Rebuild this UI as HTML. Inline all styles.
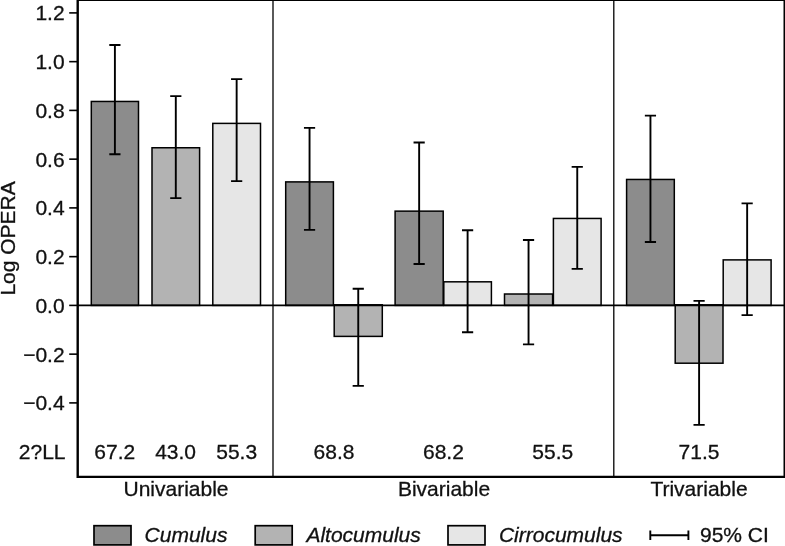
<!DOCTYPE html>
<html><head><meta charset="utf-8"><title>Log OPERA chart</title>
<style>html,body{margin:0;padding:0;background:#fff}svg{display:block}text{stroke:#111;stroke-width:0.3px;font-family:"Liberation Sans",Arial,Helvetica,sans-serif;font-size:21px;fill:#111}</style></head><body>
<svg width="785" height="546" viewBox="0 0 785 546">
<rect width="785" height="546" fill="#fff"/>
<rect x="91.30" y="101.45" width="47.20" height="203.95" fill="#8c8c8c" stroke="#000" stroke-width="1.5"/>
<rect x="152.00" y="147.76" width="47.60" height="157.64" fill="#b3b3b3" stroke="#000" stroke-width="1.5"/>
<rect x="212.80" y="123.39" width="47.70" height="182.01" fill="#e6e6e6" stroke="#000" stroke-width="1.5"/>
<rect x="285.70" y="181.89" width="47.70" height="123.51" fill="#8c8c8c" stroke="#000" stroke-width="1.5"/>
<rect x="334.20" y="304.80" width="48.10" height="31.59" fill="#b3b3b3" stroke="#000" stroke-width="1.5"/>
<rect x="395.10" y="211.14" width="48.10" height="94.26" fill="#8c8c8c" stroke="#000" stroke-width="1.5"/>
<rect x="443.80" y="281.82" width="47.60" height="23.57" fill="#e6e6e6" stroke="#000" stroke-width="1.5"/>
<rect x="504.50" y="294.01" width="48.10" height="11.39" fill="#b3b3b3" stroke="#000" stroke-width="1.5"/>
<rect x="553.40" y="218.45" width="47.70" height="86.95" fill="#e6e6e6" stroke="#000" stroke-width="1.5"/>
<rect x="626.60" y="179.45" width="47.70" height="125.95" fill="#8c8c8c" stroke="#000" stroke-width="1.5"/>
<rect x="675.20" y="304.80" width="47.80" height="58.40" fill="#b3b3b3" stroke="#000" stroke-width="1.5"/>
<rect x="723.20" y="259.89" width="47.90" height="45.51" fill="#e6e6e6" stroke="#000" stroke-width="1.5"/>
<line x1="273.0" y1="0" x2="273.0" y2="476.6" stroke="#000" stroke-width="1.3"/>
<line x1="613.8" y1="0" x2="613.8" y2="476.6" stroke="#000" stroke-width="1.3"/>
<line x1="78" y1="305.40" x2="784" y2="305.40" stroke="#000" stroke-width="1.7"/>
<path d="M114.90 44.99V154.27M109.30 44.99h11.2M109.30 154.27h11.2" stroke="#000" stroke-width="1.9" fill="none"/>
<path d="M175.80 96.17V198.15M170.20 96.17h11.2M170.20 198.15h11.2" stroke="#000" stroke-width="1.9" fill="none"/>
<path d="M236.65 79.11V181.09M231.05 79.11h11.2M231.05 181.09h11.2" stroke="#000" stroke-width="1.9" fill="none"/>
<path d="M309.55 127.86V229.84M303.95 127.86h11.2M303.95 229.84h11.2" stroke="#000" stroke-width="1.9" fill="none"/>
<path d="M358.25 288.74V385.84M352.65 288.74h11.2M352.65 385.84h11.2" stroke="#000" stroke-width="1.9" fill="none"/>
<path d="M419.15 142.49V263.96M413.55 142.49h11.2M413.55 263.96h11.2" stroke="#000" stroke-width="1.9" fill="none"/>
<path d="M467.60 230.24V332.21M462.00 230.24h11.2M462.00 332.21h11.2" stroke="#000" stroke-width="1.9" fill="none"/>
<path d="M528.55 239.99V344.40M522.95 239.99h11.2M522.95 344.40h11.2" stroke="#000" stroke-width="1.9" fill="none"/>
<path d="M577.25 166.86V268.84M571.65 166.86h11.2M571.65 268.84h11.2" stroke="#000" stroke-width="1.9" fill="none"/>
<path d="M650.45 115.67V242.02M644.85 115.67h11.2M644.85 242.02h11.2" stroke="#000" stroke-width="1.9" fill="none"/>
<path d="M699.10 300.92V424.84M693.50 300.92h11.2M693.50 424.84h11.2" stroke="#000" stroke-width="1.9" fill="none"/>
<path d="M747.15 203.42V315.15M741.55 203.42h11.2M741.55 315.15h11.2" stroke="#000" stroke-width="1.9" fill="none"/>
<path d="M77.7 0V476.9H784.7V0" stroke="#000" stroke-width="2.4" fill="none"/>
<line x1="77" y1="0.4" x2="785" y2="0.4" stroke="#000" stroke-width="1.4"/>
<line x1="69.2" y1="12.90" x2="77.7" y2="12.90" stroke="#000" stroke-width="1.6"/>
<text x="64.6" y="20.40" text-anchor="end">1.2</text>
<line x1="69.2" y1="61.65" x2="77.7" y2="61.65" stroke="#000" stroke-width="1.6"/>
<text x="64.6" y="69.15" text-anchor="end">1.0</text>
<line x1="69.2" y1="110.40" x2="77.7" y2="110.40" stroke="#000" stroke-width="1.6"/>
<text x="64.6" y="117.90" text-anchor="end">0.8</text>
<line x1="69.2" y1="159.15" x2="77.7" y2="159.15" stroke="#000" stroke-width="1.6"/>
<text x="64.6" y="166.65" text-anchor="end">0.6</text>
<line x1="69.2" y1="207.90" x2="77.7" y2="207.90" stroke="#000" stroke-width="1.6"/>
<text x="64.6" y="215.40" text-anchor="end">0.4</text>
<line x1="69.2" y1="256.65" x2="77.7" y2="256.65" stroke="#000" stroke-width="1.6"/>
<text x="64.6" y="264.15" text-anchor="end">0.2</text>
<line x1="69.2" y1="305.40" x2="77.7" y2="305.40" stroke="#000" stroke-width="1.6"/>
<text x="64.6" y="312.90" text-anchor="end">0.0</text>
<line x1="69.2" y1="354.15" x2="77.7" y2="354.15" stroke="#000" stroke-width="1.6"/>
<text x="64.6" y="361.65" text-anchor="end">−0.2</text>
<line x1="69.2" y1="402.90" x2="77.7" y2="402.90" stroke="#000" stroke-width="1.6"/>
<text x="64.6" y="410.40" text-anchor="end">−0.4</text>
<text x="65.5" y="458.5" text-anchor="end">2?LL</text>
<text x="114.8" y="458.5" text-anchor="middle">67.2</text>
<text x="175.6" y="458.5" text-anchor="middle">43.0</text>
<text x="236.7" y="458.5" text-anchor="middle">55.3</text>
<text x="334.0" y="458.5" text-anchor="middle">68.8</text>
<text x="443.4" y="458.5" text-anchor="middle">68.2</text>
<text x="552.8" y="458.5" text-anchor="middle">55.5</text>
<text x="699.0" y="458.5" text-anchor="middle">71.5</text>
<text x="176.0" y="496" text-anchor="middle">Univariable</text>
<text x="444.0" y="496" text-anchor="middle">Bivariable</text>
<text x="699.0" y="496" text-anchor="middle">Trivariable</text>
<text transform="translate(15.4 238.4) rotate(-90)" text-anchor="middle">Log OPERA</text>
<rect x="94.0" y="525.7" width="37" height="19.2" fill="#8c8c8c" stroke="#000" stroke-width="1.7"/>
<text x="144.6" y="542" font-style="italic" font-size="20.8">Cumulus</text>
<rect x="255.2" y="525.7" width="37" height="19.2" fill="#b3b3b3" stroke="#000" stroke-width="1.7"/>
<text x="306.4" y="542" font-style="italic" font-size="20.8">Altocumulus</text>
<rect x="448.0" y="525.7" width="37" height="19.2" fill="#e6e6e6" stroke="#000" stroke-width="1.7"/>
<text x="498.9" y="542" font-style="italic" font-size="20.8">Cirrocumulus</text>
<path d="M650.3 535.2H688.4M650.3 530.4v9.6M688.4 530.4v9.6" stroke="#000" stroke-width="1.9" fill="none"/>
<text x="700" y="542">95% CI</text>
</svg></body></html>
